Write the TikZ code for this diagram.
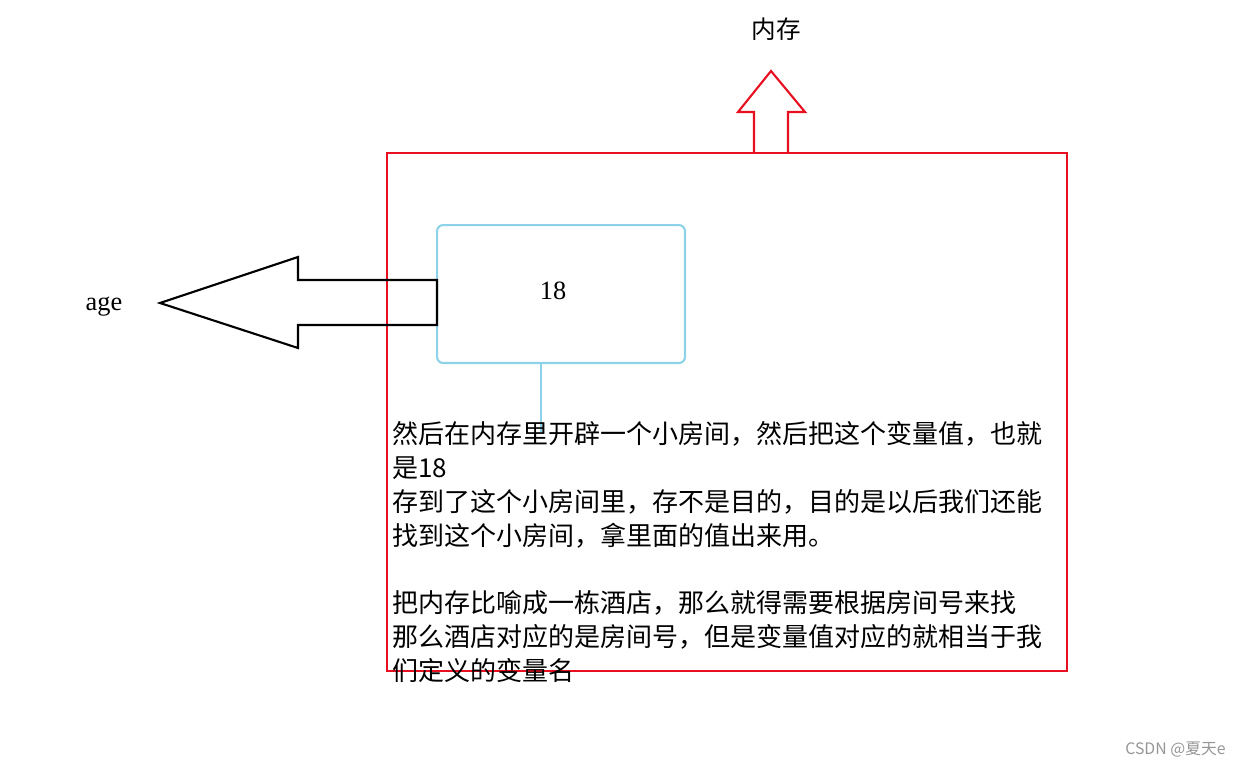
\documentclass[tikz,border=0pt]{standalone}
\usepackage{fontspec}
\usepackage{tikz}
\setmainfont{Liberation Serif}
\newfontfamily\cjk{Noto Sans CJK SC}
\definecolor{MemRed}{RGB}{232,16,32}
\definecolor{RoomBlue}{RGB}{140,210,232}
\definecolor{MarkGray}{RGB}{150,150,150}

\begin{document}
\begin{tikzpicture}[
  x=0.02cm, y=-0.02cm,
  memline/.style={draw=MemRed, line width=1.2pt},
  roombox/.style={draw=RoomBlue, line width=1.2pt, rounded corners=3.5pt},
  label/.style={inner sep=0pt, font=\fontsize{15pt}{18pt}\selectfont}
]
\useasboundingbox (0,0) rectangle (1237,768);

% memory area
\node[memline, minimum width=13.6cm, minimum height=10.36cm, anchor=north west,
  inner sep=0pt] (mem) at (386,152) {};
\draw[memline] (754,152) -- (754,112) -- (738,112) -- (771,71)
  -- (805,112) -- (788,112) -- (788,152);
\node[label, font=\cjk\fontsize{14pt}{17pt}\selectfont] (memtext) at (776,29) {内存};

% the small room
\node[roombox, minimum width=4.96cm, minimum height=2.76cm, anchor=north west,
  inner sep=0pt] (room) at (436,224) {};
\node[label] (value) at (553,291) {18};

% name arrow
\draw[line width=1.2pt] (437,280) -- (298,280) -- (298,257) -- (160,303)
  -- (298,348) -- (298,325) -- (437,325) -- cycle;
\node[label, anchor=base] (age) at (104,310) {age};

% note
\coordinate (tie) at (541,432);
\draw[draw=RoomBlue, line width=1.2pt] (room.south -| tie) -- (tie);
\node[anchor=north west, inner sep=0pt, align=left,
  font=\cjk\fontsize{14.8pt}{19.3pt}\selectfont] (note) at (392,421) {%
  然后在内存里开辟一个小房间，然后把这个变量值，也就\\
  是18\\
  存到了这个小房间里，存不是目的，目的是以后我们还能\\
  找到这个小房间，拿里面的值出来用。\\
  \\
  把内存比喻成一栋酒店，那么就得需要根据房间号来找\\
  那么酒店对应的是房间号，但是变量值对应的就相当于我\\
  们定义的变量名};

\node[anchor=east, inner sep=0pt, text=MarkGray,
  font=\cjk\fontsize{9pt}{11pt}\selectfont] (mark) at (1226,750) {CSDN @夏天e};
\end{tikzpicture}
\end{document}
